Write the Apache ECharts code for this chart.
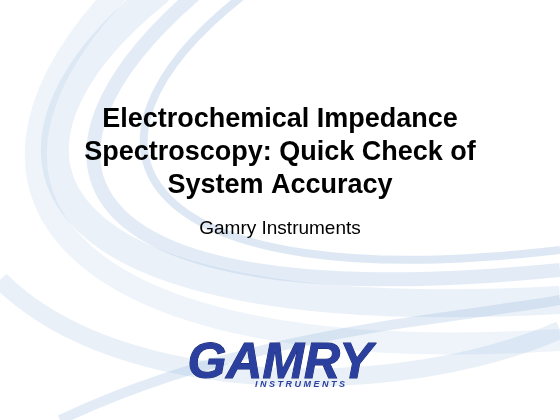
<!DOCTYPE html>
<html><head><meta charset="utf-8">
<script src="https://cdn.jsdelivr.net/npm/echarts@6/dist/echarts.min.js"></script>
<style>html,body{margin:0;padding:0;background:#fff}#c{width:560px;height:420px}</style>
</head><body><div id="c"></div>
<script>
var titleLines = ['Electrochemical Impedance', 'Spectroscopy: Quick Check of', 'System Accuracy'];
var subtitle = 'Gamry Instruments';
var logoMain = 'GAMRY';
var logoSub = 'INSTRUMENTS';

var chart = echarts.init(document.getElementById('c'));
// background swooshes
var swooshes = [
  {p: [[160, -10], [-40, 150], [20, 330], [560, 300]], w: 28, o: 0.18},
  {p: [[200, -10], [0, 160], [60, 320], [560, 270]], w: 14, o: 0.25},
  {p: [[120, -10], [-80, 200], [80, 370], [560, 340]], w: 22, o: 0.15},
  {p: [[250, -10], [40, 150], [140, 300], [560, 250]], w: 8, o: 0.3},
  {p: [[0, 280], [120, 400], [400, 400], [560, 330]], w: 18, o: 0.2},
  {p: [[60, 420], [250, 330], [450, 320], [560, 300]], w: 10, o: 0.25}
];
var graphic = [];
swooshes.forEach(function (s) {
  graphic.push({
    type: 'bezierCurve',
    shape: {x1: s.p[0][0], y1: s.p[0][1], cpx1: s.p[1][0], cpy1: s.p[1][1],
      cpx2: s.p[2][0], cpy2: s.p[2][1], x2: s.p[3][0], y2: s.p[3][1]},
    style: {stroke: '#8fb4dc', lineWidth: s.w, fill: null, opacity: s.o}
  });
});
titleLines.forEach(function (t, i) {
  graphic.push({
    type: 'text', x: 280, y: 120 + i * 33,
    style: {text: t, fill: '#000', font: 'bold 27px "Liberation Sans", Arial',
      textAlign: 'center', textVerticalAlign: 'middle'}
  });
});
graphic.push({
  type: 'text', x: 280, y: 229,
  style: {text: subtitle, fill: '#000', font: '19px "Liberation Sans", Arial',
    textAlign: 'center', textVerticalAlign: 'middle'}
});
graphic.push({
  type: 'text', x: 280, y: 364,
  style: {text: logoMain, fill: '#2b3f9e', font: 'italic bold 50px "Liberation Sans", Arial',
    textAlign: 'center', textVerticalAlign: 'middle', stroke: '#1a2a70', lineWidth: 1}
});
graphic.push({
  type: 'text', x: 300, y: 385,
  style: {text: logoSub.split('').join(' '), fill: '#2b3f9e', font: 'italic bold 9px "Liberation Sans", Arial',
    textAlign: 'center', textVerticalAlign: 'middle'}
});
chart.setOption({backgroundColor: '#fff', graphic: graphic});
</script></body></html>
